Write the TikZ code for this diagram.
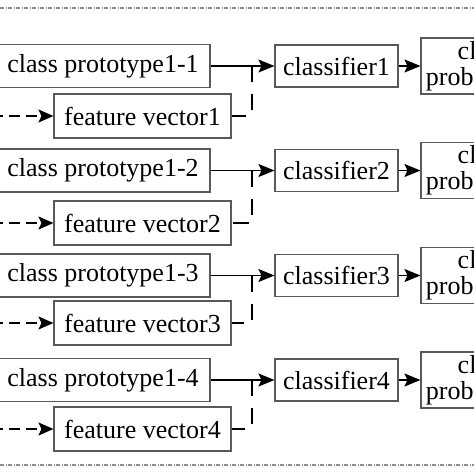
\documentclass[tikz,border=0pt]{standalone}
\usepackage{fontspec}
\setmainfont{Liberation Serif}
\usetikzlibrary{arrows.meta}
\tikzset{
  box/.style={draw=black!65, line width=1.1pt, inner sep=0pt, minimum height=43pt,
    font=\fontsize{26}{26}\selectfont, text=black},
  outbox/.style={box, minimum height=56pt, minimum width=124pt, align=center,
    font=\fontsize{26}{26}\selectfont},
  flowarrow/.style={line width=1.4pt, -{Stealth[length=16pt,width=13pt,inset=3pt]}},
  dasharrow/.style={line width=1.4pt, dash pattern=on 11pt off 6pt, -{Stealth[length=15pt,width=13pt,inset=3pt]}},
  dashlink/.style={line width=1.4pt, dash pattern=on 16pt off 12pt},
  sepline/.style={draw=black!45, line width=1.1pt, dash pattern=on 4pt off 1.5pt on 1pt off 1.5pt}
}
\begin{document}
\begin{tikzpicture}[x=1pt,y=-1pt]
\useasboundingbox (0,0) rectangle (474,474);
\clip (0,0) rectangle (474,474);
\path[sepline] (0,8) coordinate (sl1) -- (474,8) coordinate (sr1);
\path[sepline] (0,465) coordinate (sl2) -- (474,465) coordinate (sr2);
\foreach \i/\yc/\yf in {1/66/116, 2/170.5/223, 3/275.5/323, 4/380/429} {
  \node[box, minimum width=214pt] (cp\i) at (103,\yc) {class prototype1-\i};
  \node[box, minimum width=177pt, minimum height=44pt] (fv\i) at (142.5,\yf) {feature vector\i};
  \node[box, minimum width=123pt, minimum height=42pt] (cl\i) at (336.5,\yc) {classifier\i};
  \node[outbox] (out\i) at (483,\yc) {class\\probability};
  \coordinate (in\i) at (-8,\yf);
  \coordinate (j\i) at (252,\yc);
  \draw[dasharrow] (in\i) -- (fv\i.west);
  \draw[flowarrow] (cp\i.east) -- (cl\i.west);
  \draw[flowarrow] (cl\i.east) -- (out\i.west);
  \draw[dashlink] (j\i) |- (fv\i.east);
}
\end{tikzpicture}
\end{document}
